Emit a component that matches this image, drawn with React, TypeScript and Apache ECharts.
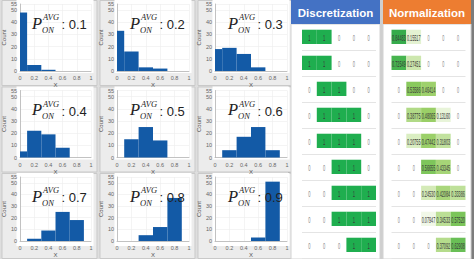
import React, { useEffect, useRef } from "react";
import * as echarts from "echarts";

const CHART_W = 474;
const CHART_H = 259;

// Mean ON-probability shown in each histogram panel
const pAvgValues = ["0.1", "0.2", "0.3", "0.4", "0.5", "0.6", "0.7", "0.8", "0.9"];

// Histogram bins (centres on X) and counts per panel
const binCenters = [0, 0.2, 0.4, 0.6, 0.8];
const BIN_WIDTH = 0.2;
const countsP01 = [48, 5, 1, 0, 0];
const countsP02 = [33, 16, 3, 2, 0];
const countsP03 = [18, 19, 14, 3, 0];
const countsP04 = [5, 22, 19, 8, 0];
const countsP05 = [0, 15, 25, 14, 0];
const countsP06 = [0, 6, 17, 25, 6];
const countsP07 = [0, 2, 9, 25, 18];
const countsP08 = [0, 0, 5, 12, 37];
const countsP09 = [0, 0, 0, 3, 51];
const histogramCounts = [
  countsP01, countsP02, countsP03,
  countsP04, countsP05, countsP06,
  countsP07, countsP08, countsP09,
];

// Axis ticks of every histogram
const xTickValues = [0, 0.2, 0.4, 0.6, 0.8, 1];
const yTickValues = [0, 10, 20, 30, 40, 50, 55];
const Y_MAX = 55;

// Discretized vectors (one row per panel)
const discretizationRows = [
  [1, 1, 0, 0, 0],
  [1, 1, 0, 0, 0],
  [0, 1, 1, 0, 0],
  [0, 1, 1, 1, 0],
  [0, 1, 1, 1, 0],
  [0, 0, 1, 1, 0],
  [0, 0, 1, 1, 1],
  [0, 0, 1, 1, 1],
  [0, 0, 0, 1, 1],
];

// Normalized vectors (one row per panel)
const normalizationRows = [
  [0.84483, 0.15517, 0, 0, 0],
  [0.72549, 0.27451, 0, 0, 0],
  [0, 0.53586, 0.46414, 0, 0],
  [0, 0.38775, 0.48065, 0.1316, 0],
  [0, 0.20755, 0.47442, 0.31803, 0],
  [0, 0, 0.56655, 0.43345, 0],
  [0, 0, 0.2453, 0.42084, 0.33386],
  [0, 0, 0.07947, 0.34533, 0.5752],
  [0, 0, 0, 0.37092, 0.62908],
];

const vectorColumns = ["1", "2", "3", "4", "5"];
const vectorRows = ["r1", "r2", "r3", "r4", "r5", "r6", "r7", "r8", "r9"];

// Layout of the 3x3 histogram block
const COL_X0 = [19, 117, 215];
const ROW_ZERO = [71, 157.5, 244];
const PLOT_W = 72;
const PLOT_H = 67;
const BAR_COLOR = "#135aa6";
const DISC_GREEN = "#1fae4f";

const normStops = ["#ffffff", "#d3eab6", "#95cd60", "#3fb14d", "#26a247"];

function hexToRgb(h: string) {
  const n = parseInt(h.slice(1), 16);
  return [(n >> 16) & 255, (n >> 8) & 255, n & 255];
}
function normColor(v: number) {
  const t = Math.max(0, Math.min(1, v)) * (normStops.length - 1);
  const i = Math.min(normStops.length - 2, Math.floor(t));
  const f = t - i;
  const a = hexToRgb(normStops[i]);
  const b = hexToRgb(normStops[i + 1]);
  const c = a.map((x, k) => Math.round(x + (b[k] - x) * f));
  return `rgb(${c[0]},${c[1]},${c[2]})`;
}

function buildOption() {
  const grid: any[] = [];
  const xAxis: any[] = [];
  const yAxis: any[] = [];
  const series: any[] = [];
  const graphic: any[] = [];

  // Backgrounds of the histogram block
  graphic.push({
    type: "rect", z: -10,
    shape: { x: 0, y: 0, width: 292, height: CHART_H },
    style: { fill: "#dedede" },
  });

  for (let i = 0; i < 9; i++) {
    const r = Math.floor(i / 3);
    const c = i % 3;
    const x0 = COL_X0[c];
    const zeroY = ROW_ZERO[r];
    const top = zeroY - PLOT_H;

    // Panel card and white plotting area
    graphic.push({
      type: "rect", z: -9,
      shape: { x: x0 - 17, y: top - 3.5, width: 95, height: 85 },
      style: { fill: "#ececec", stroke: "#c9c9c9", lineWidth: 1 },
    });
    graphic.push({
      type: "rect", z: -8,
      shape: { x: x0 - 2.5, y: top - 4, width: PLOT_W + 5, height: PLOT_H + 6 },
      style: { fill: "#ffffff" },
    });

    grid.push({ left: x0, top, width: PLOT_W, height: PLOT_H });
    xAxis.push({
      type: "value", gridIndex: i, min: 0, max: 1, interval: 0.2,
      name: "X", nameLocation: "middle", nameGap: 11,
      nameTextStyle: { fontSize: 6, color: "#555", fontFamily: "Liberation Sans" },
      axisLine: { show: true, lineStyle: { color: "#b5b5b5", width: 0.8 } },
      axisTick: { show: false },
      axisLabel: {
        fontSize: 5.5, color: "#666", margin: 4, fontFamily: "Liberation Sans",
        customValues: xTickValues,
      },
      splitLine: { show: true, lineStyle: { color: "#ececec", width: 0.6 } },
    });
    yAxis.push({
      type: "value", gridIndex: i, min: 0, max: Y_MAX, interval: 10,
      name: "Count", nameLocation: "middle", nameGap: 9, nameRotate: 90,
      nameTextStyle: { fontSize: 6, color: "#555", fontFamily: "Liberation Sans" },
      axisLine: { show: true, lineStyle: { color: "#b5b5b5", width: 0.8 } },
      axisTick: { show: false },
      axisLabel: {
        fontSize: 5.5, color: "#666", margin: 3, fontFamily: "Liberation Sans",
        customValues: yTickValues,
      },
      splitLine: { show: true, lineStyle: { color: "#ececec", width: 0.6 } },
    });
    series.push({
      type: "custom", xAxisIndex: i, yAxisIndex: i,
      data: binCenters.map((b, k) => [b, histogramCounts[i][k]]),
      renderItem: (params: any, api: any) => {
        const center = api.value(0);
        const count = api.value(1);
        if (!count) return null;
        const lo = Math.max(0, center - BIN_WIDTH / 2);
        const hi = Math.min(1, center + BIN_WIDTH / 2);
        const p0 = api.coord([lo, count]);
        const p1 = api.coord([hi, 0]);
        return {
          type: "rect",
          shape: { x: p0[0], y: p0[1], width: p1[0] - p0[0], height: p1[1] - p0[1] },
          style: { fill: BAR_COLOR },
        };
      },
    });

    // Panel title: P_ON^AVG : value
    const ty = top - 4;
    const serif = "Liberation Serif";
    graphic.push({
      type: "text", z: 10, x: x0 + 13, y: ty + 23,
      style: { text: "P", font: `italic 16.5px ${serif}`, fill: "#222", verticalAlign: "middle" },
    });
    graphic.push({
      type: "text", z: 10, x: x0 + 24, y: ty + 17,
      style: { text: "AVG", font: `italic 8.5px ${serif}`, fill: "#222", verticalAlign: "middle" },
    });
    graphic.push({
      type: "text", z: 10, x: x0 + 23, y: ty + 29.5,
      style: { text: "ON", font: `italic 8.5px ${serif}`, fill: "#222", verticalAlign: "middle" },
    });
    graphic.push({
      type: "text", z: 10, x: x0 + 42.5, y: ty + 24.5,
      style: { text: ": " + pAvgValues[i], font: "13px Liberation Sans", fill: "#222", verticalAlign: "middle" },
    });
  }

  // Two vector tables
  const tables = [
    { left: 302, header: "Discretization", headerColor: "#4472c4", px: 291, pw: 89, rows: discretizationRows, kind: "disc" },
    { left: 391.5, header: "Normalization", headerColor: "#ed7d31", px: 383, pw: 88, rows: normalizationRows, kind: "norm" },
  ];
  graphic.push({
    type: "rect", z: -10,
    shape: { x: 288, y: 0, width: 4, height: CHART_H },
    style: { fill: "#a9a9a9" },
  });
  graphic.push({
    type: "rect", z: -10,
    shape: { x: 379, y: 0, width: 5, height: CHART_H },
    style: { fill: "#cfcfcf" },
  });
  graphic.push({
    type: "rect", z: -10,
    shape: { x: 470, y: 0, width: 4, height: CHART_H },
    style: { fill: "#7d7d7d" },
  });

  tables.forEach((t) => {
    graphic.push({
      type: "rect", z: -9,
      shape: { x: t.px, y: 24, width: t.pw, height: CHART_H - 24 },
      style: { fill: "#ffffff", stroke: "#d2d2d2", lineWidth: 1 },
    });
    graphic.push({
      type: "rect", z: -9,
      shape: { x: t.px, y: 0, width: t.pw, height: 24 },
      style: { fill: t.headerColor },
    });
    graphic.push({
      type: "text", z: 10, x: t.px + t.pw / 2, y: 12.5,
      style: {
        text: t.header, font: "bold 11.5px Liberation Sans", fill: "#ffffff",
        align: "center", verticalAlign: "middle",
      },
    });

    const gi = grid.length;
    grid.push({ left: t.left, top: 24, width: 74, height: 234 });
    xAxis.push({
      type: "category", gridIndex: gi, data: vectorColumns,
      axisLine: { show: false }, axisTick: { show: false }, axisLabel: { show: false },
      splitLine: { show: false },
    });
    yAxis.push({
      type: "category", gridIndex: gi, data: vectorRows, inverse: true,
      axisLine: { show: false }, axisTick: { show: false }, axisLabel: { show: false },
      splitLine: { show: true, lineStyle: { color: "#e4e4e4", width: 1 } },
    });
    const data: number[][] = [];
    t.rows.forEach((row, ri) => row.forEach((v, ci) => data.push([ci, ri, v])));
    series.push({
      type: "custom", xAxisIndex: gi, yAxisIndex: gi, data,
      renderItem: (params: any, api: any) => {
        const ci = api.value(0);
        const ri = api.value(1);
        const v = api.value(2);
        const c = api.coord([ci, ri]);
        const s = api.size([1, 1]);
        const w = s[0];
        const h = s[1];
        const children: any[] = [];
        if (v > 0) {
          children.push({
            type: "rect",
            shape: { x: c[0] - w / 2, y: c[1] - h * 0.28, width: w, height: h * 0.55 },
            style: { fill: t.kind === "disc" ? DISC_GREEN : normColor(v) },
          });
        }
        const label = t.kind === "disc" ? String(v) : v === 0 ? "0" : v.toFixed(5);
        children.push({
          type: "text", x: c[0], y: c[1] + 0.5,
          scaleX: t.kind === "disc" ? 0.45 : 0.42,
          style: {
            text: label, fontSize: 9, fontFamily: "Liberation Sans",
            fill: v > 0 ? "#3a3a3a" : "#8a8a8a",
            align: "center", verticalAlign: "middle",
          },
        });
        return { type: "group", children };
      },
    });
  });

  return {
    animation: false,
    backgroundColor: "#dedede",
    grid, xAxis, yAxis, series, graphic,
  };
}

export default function App() {
  const ref = useRef<HTMLDivElement>(null);
  useEffect(() => {
    if (!ref.current) return;
    const chart = echarts.init(ref.current, undefined, { renderer: "svg" });
    chart.setOption(buildOption() as any);
    return () => chart.dispose();
  }, []);
  return (
    <div
      ref={ref}
      style={{ position: "fixed", left: 0, top: 0, width: CHART_W, height: CHART_H }}
    />
  );
}
